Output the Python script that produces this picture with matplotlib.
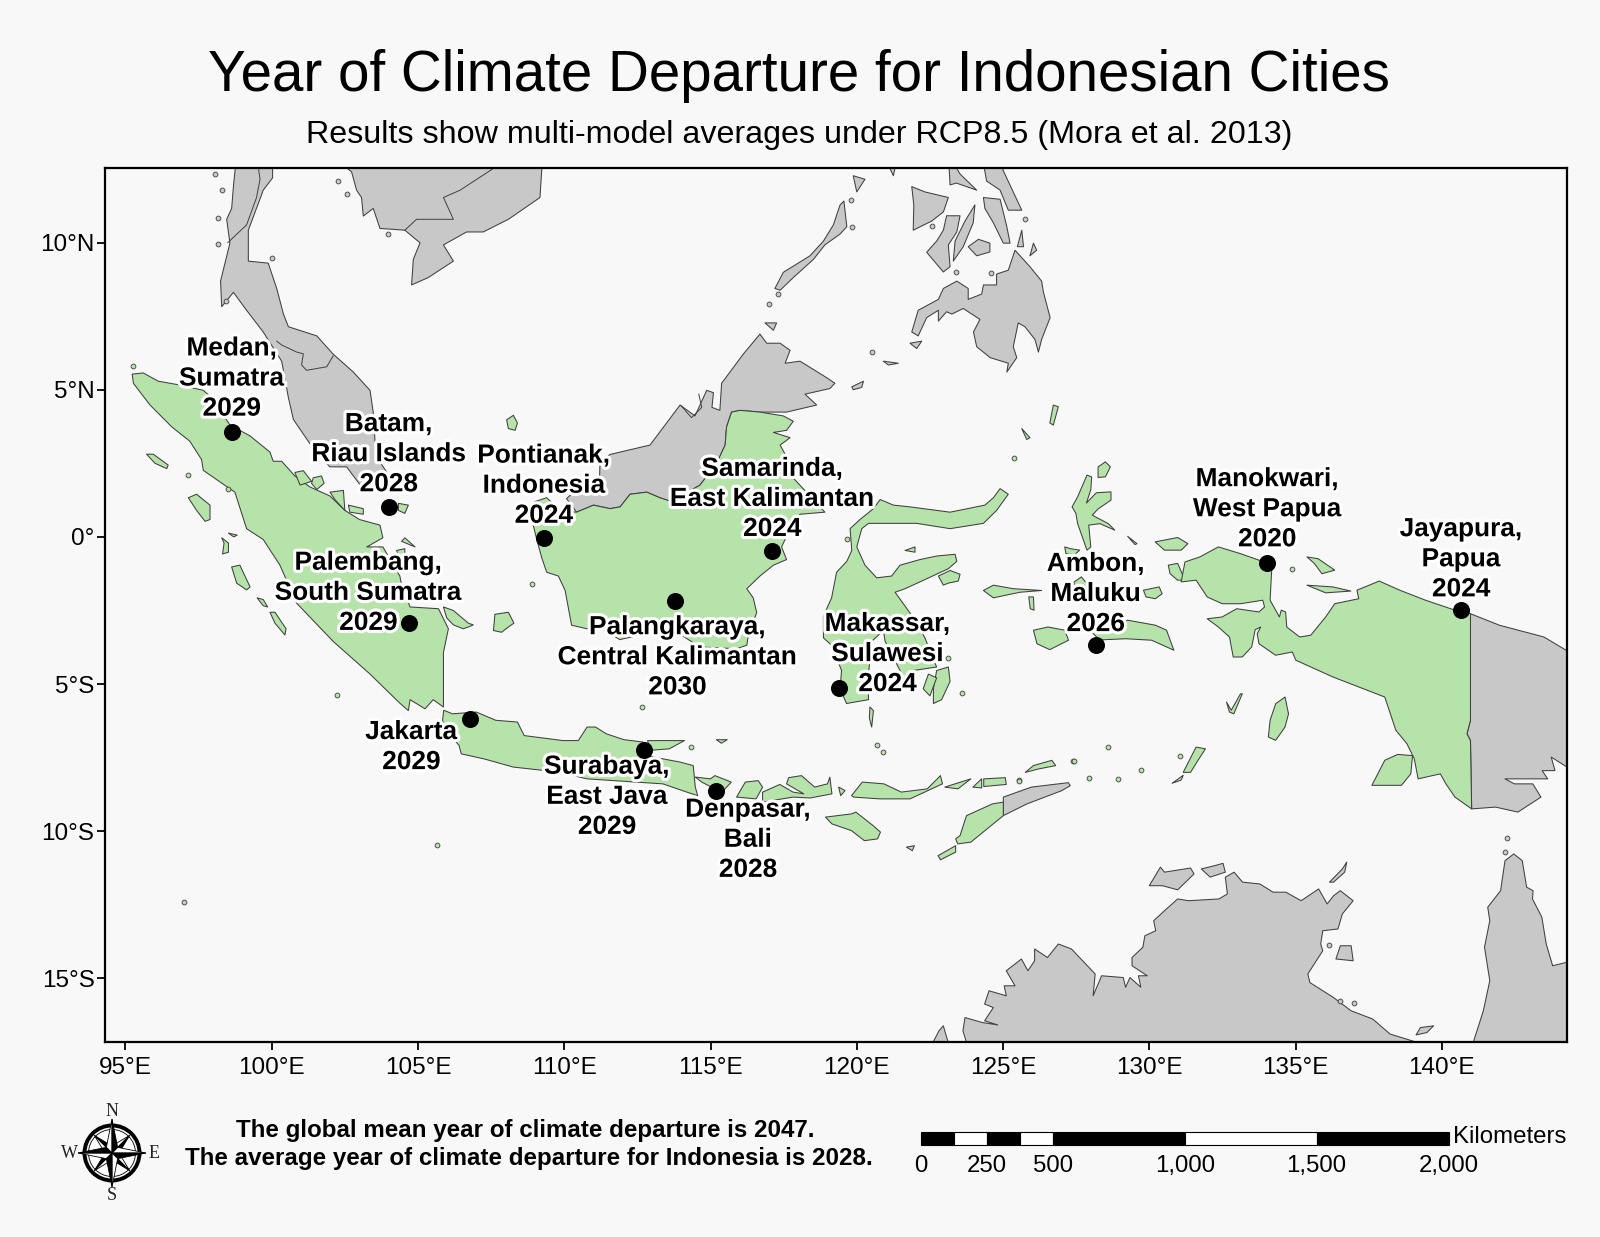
#!/usr/bin/env python3
# -*- coding: utf-8 -*-
import numpy as np
import matplotlib
matplotlib.use('Agg')
import matplotlib.pyplot as plt
import matplotlib.patheffects as pe
from matplotlib.patches import Polygon, Circle

plt.rcParams['font.family'] = ['Liberation Sans', 'DejaVu Sans']

# ---- coastlines, (lon, lat) ----
sumatra = [(95.23,5.53),(95.61,5.57),(96.12,5.29),(96.86,5.16),(97.66,4.98),(97.95,4.73),(98.57,3.8),(99.26,3.43),
           (99.94,2.88),(100.05,2.57),(100.34,2.57),(100.79,2.07),(101.3,1.7),(101.99,1.39),(102.5,0.9),(103.0,0.59),
           (103.7,0.4),(103.8,-0.03),(103.25,-0.34),(103.8,-0.34),(104.38,-1.33),(104.44,-1.64),(104.73,-2.38),
           (105.7,-2.44),(106.04,-3.12),(105.87,-3.92),(105.87,-5.78),(105.52,-5.53),(105.24,-5.84),(104.73,-5.53),
           (104.67,-5.9),(104.38,-5.65),(103.36,-4.66),(102.1,-3.55),(100.85,-2.25),(100.28,-0.96),(99.71,-0.09),
           (99.14,0.28),(98.74,1.52),(97.66,2.26),(97.6,2.63),(97.2,3.25),(96.58,3.74),(95.84,4.48),(95.27,5.22)]
simeulue = [(95.72,2.81),(95.95,2.81),(96.46,2.44),(96.41,2.32),(96.01,2.5)]
nias = [(97.15,1.33),(97.43,1.45),(97.89,1.08),(97.89,0.59),(97.72,0.53),(97.43,0.9)]
siberut = [(98.63,-1.02),(98.91,-0.96),(99.26,-1.7),(99.14,-1.8),(98.8,-1.57)]
sipora = [(99.5,-2.07),(99.71,-2.13),(99.86,-2.38),(99.71,-2.34)]
pagai = [(99.94,-2.56),(100.11,-2.56),(100.49,-3.12),(100.45,-3.33),(100.11,-2.93)]
batu = [(98.29,-0.03),(98.52,-0.21),(98.52,-0.52),(98.32,-0.58),(98.37,-0.21)]
batu_n = [(98.52,0.13),(98.82,0.06),(98.7,0.0)]
bengkalis = [(100.79,2.19),(101.08,2.25),(101.36,1.89),(100.97,1.76)]
rupat = [(101.42,2.01),(101.7,2.07),(101.79,1.82),(101.54,1.61),(101.36,1.82)]
rangsang = [(101.99,1.52),(102.45,1.58),(102.5,0.9),(102.16,1.27)]
karimun = [(102.62,1.08),(103.13,0.96),(103.13,0.77),(102.67,0.84)]
bintan = [(104.33,1.14),(104.67,1.08),(104.55,0.8),(104.33,0.9)]
lingga_a = [(104.44,-0.15),(104.9,-0.34),(104.55,-0.03)]
lingga_b = [(104.27,-0.46),(104.55,-0.4),(104.55,-0.65),(104.33,-0.65)]
bangka = [(105.87,-2.38),(106.21,-2.5),(106.72,-2.93),(106.89,-2.99),(106.72,-3.06),(106.55,-3.12),(106.21,-2.99),(105.98,-2.75)]
belitung = [(107.63,-2.63),(108.09,-2.56),(108.28,-2.93),(108.09,-3.06),(107.86,-3.24),(107.58,-3.18)]
natuna = [(108.03,3.98),(108.26,4.13),(108.4,3.87),(108.32,3.62),(108.09,3.68)]
kalimantan = [(109.0,1.2),(109.4,1.33),(109.86,0.9),(110.42,0.84),(111.0,1.08),(111.56,0.96),(111.91,1.02),(112.25,1.45),
              (112.82,1.52),(113.27,1.33),(113.67,1.2),(114.64,1.76),(115.21,2.5),(115.5,3.12),(115.55,3.74),(115.72,4.24),
              (116.01,4.3),(116.69,4.24),(117.49,4.11),(117.83,3.93),(117.6,3.62),(117.15,3.55),(117.72,3.37),(117.38,3.12),
              (117.72,2.5),(117.83,2.0),(118.91,0.84),(118.06,0.77),(117.72,0.28),(117.43,-0.34),(117.6,-0.77),(117.15,-0.96),
              (116.69,-1.33),(116.24,-1.76),(116.46,-2.07),(116.58,-2.57),(116.3,-3.31),(116.24,-3.68),(115.9,-3.8),
              (114.64,-3.74),(113.96,-3.31),(113.27,-3.18),(111.9,-3.49),(111.2,-3.06),(110.77,-3.12),(110.25,-3.0),
              (110.03,-1.82),(109.8,-1.33),(109.4,-1.2),(109.23,-0.71),(109.06,-0.09),(108.94,0.4),(109.06,0.9)]
sulawesi = [(125.18,1.45),(124.9,1.64),(124.67,1.33),(124.38,1.08),(123.19,0.84),(121.82,1.02),(121.25,1.08),(120.8,1.27),
            (120.57,0.96),(120.11,0.59),(119.77,0.28),(119.83,-0.46),(119.66,-0.83),(119.31,-1.2),(119.14,-2.07),
            (118.86,-2.69),(118.86,-3.43),(119.14,-3.68),(119.48,-4.54),(119.43,-5.16),(119.65,-5.66),(120.4,-5.53),
            (120.4,-4.66),(120.51,-3.55),(120.91,-3.18),(120.97,-3.55),(121.54,-4.66),(121.59,-4.91),(121.93,-4.54),
            (122.73,-4.42),(122.33,-3.43),(121.99,-2.82),(121.31,-1.88),(121.65,-1.76),(122.33,-1.45),(123.13,-1.08),
            (123.42,-0.83),(123.36,-0.59),(122.73,-0.65),(122.16,-0.77),(121.48,-0.96),(121.19,-1.33),(120.68,-1.39),
            (120.28,-0.96),(120.0,-0.34),(120.17,0.28),(120.4,0.46),(122.05,0.46),(123.19,0.28),(124.33,0.46),(124.78,0.9)]
buton = [(122.73,-4.54),(123.13,-4.42),(123.19,-4.91),(122.9,-5.53),(122.62,-5.66),(122.62,-5.16)]
muna = [(122.27,-5.16),(122.45,-4.66),(122.73,-4.79),(122.5,-5.4)]
selayar = [(120.45,-5.78),(120.57,-5.9),(120.51,-6.46),(120.43,-6.15)]
banggai = [(122.79,-1.33),(123.19,-1.14),(123.53,-1.27),(123.47,-1.5),(123.13,-1.57),(122.96,-1.64)]
togian = [(121.65,-0.46),(121.99,-0.34),(121.99,-0.52)]
talaud = [(126.72,4.48),(126.89,4.42),(126.72,3.8),(126.6,3.87)]
sangihe = [(125.64,3.68),(125.92,3.37),(125.81,3.31)]
morotai = [(128.25,2.38),(128.5,2.55),(128.67,2.38),(128.5,2.04),(128.25,2.02)]
halmahera = [(127.55,1.36),(127.87,2.1),(128.03,2.04),(128.0,1.6),(127.85,1.15),(128.19,1.5),(128.69,1.53),(128.69,1.25),
             (128.25,0.95),(128.05,0.74),(128.6,0.45),(128.82,0.23),(128.31,0.45),(127.93,0.4),(128.0,-0.34),(127.87,-0.45),
             (127.55,0.45),(127.49,0.8),(127.36,1.02)]
bacan = [(127.11,-0.34),(127.3,-0.4),(127.62,-0.45),(127.43,-0.62),(127.15,-0.57)]
gebe = [(129.26,0.02),(129.58,-0.23),(129.51,-0.26)]
waigeo = [(130.2,-0.17),(130.97,-0.02),(131.32,-0.23),(131.09,-0.45),(130.52,-0.45)]
salawati = [(130.65,-0.96),(130.97,-0.9),(131.22,-1.47),(130.97,-1.47),(130.71,-1.25)]
seram = [(128.0,-3.2),(128.94,-3.0),(129.26,-2.83),(130.21,-3.0),(130.59,-3.17),(130.84,-3.85),(130.08,-3.51),(129.2,-3.46),(128.3,-3.5)]
buru = [(126.04,-3.17),(126.54,-3.06),(127.11,-3.17),(127.24,-3.51),(126.6,-3.83),(126.16,-3.63)]
taliabu = [(124.33,-1.82),(124.67,-1.64),(125.35,-1.76),(126.32,-1.82),(125.58,-1.88),(124.67,-2.07)]
sanana = [(125.88,-2.04),(126.04,-2.04),(126.06,-2.49),(125.93,-2.44)]
misool = [(129.8,-1.81),(130.34,-1.7),(130.44,-1.93),(130.21,-2.1),(129.89,-2.04)]
obi = [(127.43,-1.53),(127.68,-1.36),(127.91,-1.64),(127.43,-1.7)]
papua = [(131.22,-0.85),(131.73,-0.68),(132.36,-0.34),(133.12,-0.57),(133.75,-0.79),(134.19,-1.02),(134.13,-2.15),
         (134.45,-2.72),(134.51,-2.49),(134.66,-2.55),(134.7,-3.06),(135.14,-3.4),(135.52,-3.34),(136.03,-2.72),
         (136.34,-2.27),(137.16,-2.1),(137.1,-1.81),(137.86,-1.5),(138.56,-1.81),(139.44,-2.15),(140.45,-2.49),
         (140.98,-2.61),(140.98,-6.23),(140.86,-6.69),(140.98,-6.92),(141.02,-9.24),(140.45,-8.84),(140.14,-8.39),
         (139.95,-8.05),(139.19,-8.22),(139.06,-7.54),(138.81,-7.03),(138.43,-6.57),(138.05,-5.44),(136.28,-4.76),
         (135.01,-4.19),(134.89,-3.91),(134.32,-4.02),(133.75,-3.63),(133.69,-3.29),(133.81,-3.06),(133.62,-3.15),
         (133.5,-3.74),(133.18,-4.08),(132.87,-4.08),(132.74,-3.4),(132.36,-3.06),(131.98,-2.78),(132.49,-2.72),
         (132.99,-2.44),(133.75,-2.55),(133.94,-2.38),(133.88,-2.15),(133.12,-2.27),(132.49,-2.27),(131.98,-2.04),
         (131.6,-1.47),(131.09,-1.53)]
dolak = [(137.61,-8.44),(138.05,-7.59),(138.49,-7.39),(139.0,-7.43),(138.94,-8.05),(138.62,-8.44)]
biak = [(135.39,-0.68),(135.77,-0.74),(136.34,-1.13),(135.9,-1.25),(135.65,-0.91)]
yapen = [(135.39,-1.64),(136.28,-1.7),(136.89,-1.84),(136.03,-1.9)]
aru = [(134.32,-5.67),(134.64,-5.44),(134.76,-6.01),(134.64,-6.46),(134.32,-6.91),(134.07,-6.8),(134.13,-6.23)]
kai = [(132.64,-5.61),(132.8,-5.89),(133.12,-5.33),(133.18,-5.33),(132.89,-6.01),(132.74,-5.95)]
tanimbar = [(131.16,-8.0),(131.6,-7.14),(131.92,-7.2),(131.66,-7.6),(131.41,-8.0)]
selaru = [(130.78,-8.37),(131.16,-8.1),(131.09,-8.26)]
wetar = [(125.76,-8.0),(126.04,-7.77),(126.67,-7.59),(126.8,-7.77),(126.23,-7.88)]
timor_west = [(125.01,-9.01),(124.64,-9.07),(123.75,-9.47),(123.53,-10.15),(123.38,-10.26),(123.45,-10.43),(123.9,-10.37),(125.01,-9.47)]
rote = [(122.78,-10.83),(123.38,-10.49),(123.38,-10.71),(122.86,-10.97)]
savu = [(121.7,-10.54),(121.97,-10.49),(121.9,-10.66)]
sumba = [(118.93,-9.52),(119.82,-9.41),(119.97,-9.35),(120.56,-9.81),(120.81,-10.03),(120.71,-10.26),(120.26,-10.32),(119.82,-9.98),(119.15,-9.75)]
flores = [(119.82,-8.79),(120.19,-8.33),(120.93,-8.39),(121.52,-8.67),(122.41,-8.56),(122.86,-8.11),(122.93,-8.39),(121.82,-8.9),(120.78,-8.9),(119.89,-8.84)]
solor = [(123.01,-8.5),(123.9,-8.22),(123.46,-8.56)]
pantar = [(123.97,-8.5),(124.27,-8.22),(124.27,-8.53)]
alor = [(124.34,-8.22),(125.08,-8.18),(125.11,-8.41),(124.34,-8.48)]
sumbawa = [(116.78,-9.01),(116.78,-8.67),(117.37,-8.41),(117.82,-8.67),(118.19,-8.73),(117.6,-8.39),(117.67,-8.18),(118.11,-8.11),
           (118.56,-8.5),(119.0,-8.39),(119.08,-8.16),(119.15,-8.73),(118.41,-8.87),(117.82,-8.84)]
lombok = [(115.89,-8.84),(116.19,-8.33),(116.63,-8.28),(116.78,-8.5),(116.56,-8.9)]
bali = [(114.48,-8.16),(115.0,-8.22),(115.15,-8.11),(115.71,-8.33),(115.45,-8.61),(115.15,-8.56),(114.7,-8.33)]
komodo = [(119.38,-8.5),(119.6,-8.62),(119.45,-8.79)]
madura = [(112.85,-6.92),(114.11,-6.92),(113.59,-7.2),(112.93,-7.25)]
kangean = [(115.2,-6.89),(115.57,-6.89),(115.37,-7.01)]
java = [(105.88,-5.89),(106.18,-6.01),(106.99,-5.95),(107.66,-6.23),(108.4,-6.29),(108.63,-6.75),(109.96,-6.92),(110.48,-6.92),
        (110.78,-6.46),(111.07,-6.46),(111.44,-6.69),(112.04,-6.89),(112.7,-6.97),(112.78,-7.43),(113.96,-7.65),(114.41,-7.77),
        (114.48,-8.5),(114.56,-8.79),(114.19,-8.67),(113.37,-8.39),(110.78,-8.22),(109.81,-7.99),(108.26,-7.82),(107.29,-7.55),
        (106.48,-7.37),(106.4,-7.08),(105.96,-6.57),(105.84,-6.23)]

malay_peninsula = [(98.8,13.0),(100.03,13.0),(100.03,12.2),(99.71,11.78),(99.2,10.42),(99.2,9.37),(99.88,9.3),(100.17,8.44),(100.4,7.57),
                   (100.57,7.14),(101.54,6.83),(102.1,6.21),(102.79,5.6),(103.36,4.98),(103.47,4.23),(103.53,3.25),(103.64,2.63),
                   (103.98,2.13),(103.7,1.7),(103.07,1.7),(102.56,2.38),(101.99,2.38),(101.42,3.0),(100.74,3.99),(100.57,4.73),
                   (100.34,5.97),(99.71,6.96),(99.14,7.7),(98.69,8.31),(98.29,7.82),(98.25,8.69),(98.57,9.98),(98.46,10.79),
                   (98.63,11.16),(98.69,11.9)]
indochina = [(102.0,13.0),(102.73,12.4),(102.9,11.78),(103.07,11.53),(103.13,10.9),(103.47,11.16),(103.7,10.48),(104.55,10.42),
             (105.07,9.99),(104.84,9.43),(104.78,8.56),(105.35,8.81),(106.21,9.37),(105.87,9.92),(106.66,10.36),(107.23,10.36),
             (108.09,10.79),(109.17,11.53),(109.23,12.46),(109.3,13.0)]
north_borneo = [(110.08,1.3),(110.5,1.7),(111.2,1.7),(111.22,2.5),(111.56,2.8),(112.93,3.12),(113.96,4.48),(114.47,4.11),(114.87,4.98),
                (115.1,4.9),(115.05,4.4),(115.32,4.3),(115.38,5.22),(116.12,6.21),(116.69,6.89),(116.92,6.58),(117.38,6.58),
                (117.72,6.34),(117.55,5.9),(118.06,5.97),(118.97,5.41),(119.25,5.22),(119.08,5.04),(118.23,4.85),(118.63,4.48),
                (117.6,4.24),(116.69,4.24),(116.01,4.3),(115.72,4.24),(115.55,3.74),(115.5,3.12),(115.21,2.5),(114.64,1.76),
                (113.67,1.2),(113.27,1.33),(112.82,1.52),(112.25,1.45),(111.91,1.02),(111.56,0.96),(111.0,1.08),(110.42,0.84)]
palawan = [(117.2,8.44),(117.49,8.99),(118.4,9.55),(118.86,10.05),(119.2,10.6),(119.43,11.28),(119.56,11.41),(119.66,10.54),
           (119.43,10.29),(118.91,9.92),(118.52,9.43),(117.83,8.81),(117.38,8.38)]
busuanga = [(119.88,12.27),(120.28,12.15),(120.0,11.72)]
balabac = [(116.86,7.27),(117.26,7.27),(117.15,7.02)]
panay = [(121.88,11.9),(122.33,11.72),(123.13,11.53),(122.96,11.04),(122.56,10.73),(121.93,10.42),(121.95,11.28)]
negros = [(123.07,10.91),(123.53,10.91),(123.42,10.36),(123.13,9.92),(123.19,9.18),(122.96,9.0),(122.39,9.67),(122.73,10.05),(122.96,10.42)]
cebu = [(124.04,11.28),(123.98,10.67),(123.64,9.86),(123.3,9.37),(123.36,10.05),(123.7,10.73)]
bohol = [(123.81,9.86),(124.16,10.11),(124.55,9.98),(124.55,9.68),(124.1,9.55)]
leyte = [(124.33,11.53),(124.9,11.47),(125.13,10.54),(125.24,9.98),(125.01,9.98),(124.67,10.67),(124.38,11.16)]
samar = [(124.27,13.0),(125.0,13.0),(125.0,12.46),(125.64,11.1),(125.18,11.1),(124.9,11.78),(124.44,12.09)]
masbate = [(123.13,13.0),(123.53,12.33),(124.1,11.78),(123.41,12.02),(123.19,11.96)]
mindoro = [(120.91,13.0),(121.42,13.0),(121.25,12.27)]
dinagat = [(125.64,10.42),(125.7,9.86),(125.49,9.86)]
siargao = [(126.04,9.98),(126.15,9.74),(125.92,9.55)]
mindanao = [(122.1,6.83),(121.88,6.96),(122.1,7.7),(122.79,8.07),(122.96,8.44),(123.42,8.69),(123.81,8.44),(123.81,8.07),(124.27,8.25),
            (124.33,8.56),(124.78,8.56),(124.78,8.93),(125.18,9.06),(125.41,9.74),(125.92,9.18),(126.32,8.69),(126.38,8.32),(126.61,7.45),
            (126.32,6.71),(126.21,6.28),(126.09,6.71),(125.75,7.14),(125.52,7.27),(125.35,6.46),(125.47,6.09),(125.13,5.6),(125.18,5.9),
            (124.56,6.09),(124.1,6.46),(123.99,6.96),(124.21,7.39),(123.64,7.76),(123.25,7.57),(123.07,7.65),(122.79,7.33),(122.79,7.7),(122.39,7.45)]
basilan = [(121.82,6.58),(122.22,6.65),(122.05,6.4)]
jolo = [(120.91,5.97),(121.42,5.9),(121.08,5.84)]
tawi = [(119.83,5.1),(120.23,5.29),(120.17,5.08),(119.88,5.0)]
timor_leste = [(125.01,-8.84),(125.97,-8.5),(127.23,-8.35),(127.3,-8.45),(127.01,-8.62),(125.82,-9.07),(125.01,-9.47)]
png = [(140.98,-2.61),(141.97,-3.0),(143.49,-3.4),(144.25,-3.85),(144.8,-3.85),(144.8,-7.8),(144.25,-7.8),(143.74,-7.48),(143.87,-7.94),
       (143.43,-7.94),(143.62,-8.22),(142.16,-8.22),(142.48,-8.39),(143.11,-8.39),(143.39,-8.84),(142.6,-9.35),(141.84,-9.18),(141.02,-9.24),
       (140.98,-6.92),(140.86,-6.69),(140.98,-6.23)]
kimberley_bit = [(122.44,-17.5),(122.81,-16.78),(122.96,-16.61),(123.04,-16.89),(123.23,-17.5)]
north_australia = [(123.85,-17.5),(123.63,-16.78),(123.7,-16.33),(124.3,-16.5),(124.82,-16.58),(124.37,-16.44),(124.67,-15.99),(124.37,-15.87),
                   (124.52,-15.42),(125.11,-15.59),(125.04,-15.25),(125.41,-15.25),(125.11,-14.74),(125.63,-14.34),(125.85,-14.74),
                   (126.08,-14.4),(126.08,-14.0),(126.52,-14.29),(126.89,-13.83),(127.34,-14.0),(128.15,-14.85),(128.08,-15.59),
                   (128.37,-14.91),(129.11,-14.97),(129.19,-15.3),(129.34,-14.97),(129.71,-15.3),(129.63,-14.91),(129.93,-14.91),
                   (129.41,-14.57),(129.41,-14.29),(129.78,-13.94),(129.85,-13.55),(130.22,-13.38),(130.15,-13.04),(130.52,-12.7),
                   (130.97,-12.3),(131.34,-12.36),(132.38,-12.3),(132.67,-12.13),(132.6,-11.56),(132.9,-11.39),(133.19,-11.73),
                   (133.78,-11.79),(134.23,-12.07),(134.67,-12.07),(135.19,-12.36),(135.79,-11.96),(136.08,-12.47),(136.3,-12.19),
                   (136.53,-12.02),(136.97,-12.36),(136.6,-12.81),(136.45,-13.32),(135.93,-13.38),(135.86,-13.83),(135.93,-14.06),
                   (135.42,-14.85),(135.49,-15.14),(136.3,-15.65),(136.9,-16.1),(137.64,-16.38),(138.23,-16.89),(139.05,-17.14),(139.1,-17.5)]
cape_york = [(140.97,-17.5),(141.42,-16.1),(141.64,-15.08),(141.46,-13.94),(141.64,-13.04),(141.57,-12.58),(142.01,-12.02),(142.16,-11.0),
             (142.46,-10.77),(142.75,-11.0),(142.9,-11.9),(143.12,-12.02),(143.1,-12.3),(143.42,-12.92),(143.57,-13.83),(143.79,-14.57),
             (144.24,-14.46),(144.8,-14.46),(144.8,-17.5)]
melville = [(130.0,-11.85),(130.38,-11.22),(130.52,-11.39),(131.41,-11.25),(131.53,-11.45),(130.97,-11.99),(130.45,-11.85)]
cobourg = [(131.78,-11.28),(132.23,-11.17),(132.52,-11.09),(132.6,-11.39),(132.08,-11.56)]
wessel = [(136.16,-11.73),(136.6,-11.28),(136.75,-11.05),(136.68,-11.39),(136.3,-11.73)]
groote = [(136.38,-14.34),(136.53,-13.89),(136.9,-13.89),(136.97,-14.4)]
wellesley = [(139.12,-16.92),(139.27,-16.67),(139.72,-16.61),(139.49,-16.84)]

indonesia_land = [sumatra, simeulue, nias, siberut, sipora, pagai, batu, batu_n, bengkalis, rupat, rangsang, karimun, bintan,
                  lingga_a, lingga_b, bangka, belitung, natuna, kalimantan, sulawesi, buton, muna, selayar, banggai, togian,
                  talaud, sangihe, morotai, halmahera, bacan, gebe, waigeo, salawati, seram, buru, taliabu, sanana, misool, obi,
                  papua, dolak, biak, yapen, aru, kai, tanimbar, selaru, wetar, timor_west, rote, savu, sumba, flores, solor,
                  pantar, alor, sumbawa, lombok, bali, komodo, madura, kangean, java]
other_land = [malay_peninsula, indochina, north_borneo, palawan, busuanga, balabac, panay, negros, cebu, bohol, leyte, samar,
              masbate, mindoro, dinagat, siargao, mindanao, basilan, jolo, tawi, timor_leste, png, kimberley_bit,
              north_australia, cape_york, melville, cobourg, wessel, groote, wellesley]

border_lines = [[(98.5,10.0),(99.14,10.6),(99.48,11.53),(99.6,12.15),(99.48,13.0)],
                [(100.17,6.65),(100.34,6.52),(100.85,6.28),(101.08,6.22),(101.02,5.84),(101.19,5.66),(101.88,5.78),(102.1,6.15)],
                [(104.55,10.42),(104.95,10.79),(106.21,10.79),(105.87,11.53),(106.44,11.78),(107.58,12.52),(108.0,13.0)],
                [(114.0,4.45),(114.35,4.05),(114.7,4.4),(114.6,4.85)]]

tiny_green_lon = [97.15,98.52,95.27,102.22,108.89,119.66,123.59,112.65,123.13,125.39,134.89,128.6,127.4,129.7,127.93,128.92,125.53,131.06,125.53,127.41,114.33,120.68,120.9,105.66]
tiny_green_lat = [2.1,1.64,5.8,-5.38,-1.61,-0.07,-5.32,-5.78,-4.11,2.69,-1.08,-7.14,-7.6,-7.93,-8.2,-8.24,-8.25,-7.46,-8.28,-7.6,-7.14,-7.08,-7.3,-10.46]
tiny_grey_lon = [98.06,98.3,98.17,98.17,100.0,98.45,103.98,102.28,102.56,119.83,119.8,117.01,117.3,122.56,125.76,123.4,124.6,120.52,136.16,136.53,137.0,142.23,142.16,97.0]
tiny_grey_lat = [12.33,11.8,10.85,9.95,9.49,8.0,10.3,12.08,11.65,10.54,11.44,7.92,8.25,10.57,10.8,9.0,8.95,6.27,-13.85,-15.76,-15.85,-10.23,-10.71,-12.4]

# ---- cities ----
city_names = ['Medan,\nSumatra', 'Batam,\nRiau Islands', 'Pontianak,\nIndonesia', 'Samarinda,\nEast Kalimantan', 'Manokwari,\nWest Papua',
              'Jayapura,\nPapua', 'Palembang,\nSouth Sumatra', 'Ambon,\nMaluku', 'Palangkaraya,\nCentral Kalimantan', 'Makassar,\nSulawesi',
              'Jakarta', 'Surabaya,\nEast Java', 'Denpasar,\nBali']
city_years = [2029, 2028, 2024, 2024, 2020, 2024, 2029, 2026, 2030, 2024, 2029, 2029, 2028]
city_lon = [98.63, 104.0, 109.3, 117.11, 134.03, 140.64, 104.7, 128.17, 113.77, 119.38, 106.79, 112.72, 115.2]
city_lat = [3.57, 1.0, -0.03, -0.49, -0.87, -2.5, -2.91, -3.67, -2.18, -5.13, -6.2, -7.24, -8.63]

# where each label sits (centre of the block)
label_lon = [98.63, 104.0, 109.3, 117.11, 134.03, 140.66, 103.3, 128.17, 113.87, 121.05, 104.77, 111.46, 116.28]
label_lat = [5.38, 2.81, 1.74, 1.29, 0.94, -0.76, -1.9, -1.94, -4.09, -3.98, -7.14, -8.83, -10.29]

lon_ticks = [95, 100, 105, 110, 115, 120, 125, 130, 135, 140]
lon_labels = ['95°E', '100°E', '105°E', '110°E', '115°E', '120°E', '125°E', '130°E', '135°E', '140°E']
lat_ticks = [10, 5, 0, -5, -10, -15]
lat_labels = ['10°N', '5°N', '0°', '5°S', '10°S', '15°S']

scale_km = [0, 125, 250, 375, 500, 1000, 1500, 2000]
scale_ticks = [0, 250, 500, 1000, 1500, 2000]
scale_labels = ['0', '250', '500', '1,000', '1,500', '2,000']

bg = '#F8F8F8'
green = '#B5E3A9'
grey = '#C8C8C8'
coast = '#404040'
W, H = 1600, 1237


def px_axes(x0, y0, x1, y1):
    # axes box given in picture pixels
    return fig.add_axes([x0 / W, 1 - y1 / H, (x1 - x0) / W, (y1 - y0) / H])


fig = plt.figure(figsize=(16, 12.37), dpi=100, facecolor=bg)
ax = px_axes(105, 167.5, 1567, 1042)
ax.set_facecolor(bg)
ax.set_xlim(94.3, 144.28)
ax.set_ylim(-17.16, 12.55)

for poly in other_land:
    ax.add_patch(Polygon(poly, closed=True, fc=grey, ec=coast, lw=0.75, joinstyle='round', zorder=2))
for poly in indonesia_land:
    ax.add_patch(Polygon(poly, closed=True, fc=green, ec=coast, lw=0.75, joinstyle='round', zorder=3))
for line in border_lines:
    ax.plot([p[0] for p in line], [p[1] for p in line], color=coast, lw=0.7, zorder=2.5)
ax.scatter(tiny_grey_lon, tiny_grey_lat, s=12, marker='o', fc=grey, ec=coast, lw=0.6, zorder=3)
ax.scatter(tiny_green_lon, tiny_green_lat, s=12, marker='o', fc=green, ec=coast, lw=0.6, zorder=3)

ax.scatter(city_lon, city_lat, s=150, c='black', zorder=6, lw=0)

halo = [pe.withStroke(linewidth=4.5, foreground='white')]
for i in range(len(city_names)):
    ax.text(label_lon[i], label_lat[i], city_names[i] + '\n' + str(city_years[i]), ha='center', va='center',
            fontsize=18.9, fontweight='bold', color='black', linespacing=1.32, zorder=5, path_effects=halo)

ax.set_xticks(lon_ticks)
ax.set_xticklabels(lon_labels)
ax.set_yticks(lat_ticks)
ax.set_yticklabels(lat_labels)
ax.tick_params(axis='both', length=6, width=1.3, labelsize=17.5, color='black')
ax.tick_params(axis='x', pad=5)
ax.tick_params(axis='y', pad=1.5)
for s in ax.spines.values():
    s.set_linewidth(1.6)

# titles and notes
fig.text(799 / W, 1 - 76 / H, 'Year of Climate Departure for Indonesian Cities', ha='center', va='center', fontsize=40.7)
fig.text(799 / W, 1 - 135 / H, 'Results show multi-model averages under RCP8.5 (Mora et al. 2013)', ha='center', va='center', fontsize=23.2)
fig.text(525 / W, 1 - 1131 / H, 'The global mean year of climate departure is 2047.', ha='center', va='center', fontsize=17.35, fontweight='bold')
fig.text(528.5 / W, 1 - 1159 / H, 'The average year of climate departure for Indonesia is 2028.', ha='center', va='center', fontsize=17.35, fontweight='bold')

# scale bar
sb = px_axes(920.8, 1132, 1448.6, 1145)
sb.set_xlim(scale_km[0], scale_km[-1])
sb.set_ylim(0, 1)
sb.axis('off')
for i in range(len(scale_km) - 1):
    sb.barh(0.5, scale_km[i + 1] - scale_km[i], left=scale_km[i], height=1, align='center',
            color='black' if i % 2 == 0 else 'white', edgecolor='black', lw=0.8, clip_on=False)
for k, lab in zip(scale_ticks, scale_labels):
    sb.text(k, -1.65, lab, ha='center', va='center', fontsize=17.3, clip_on=False)
sb.text(2000 + 16, 0.65, 'Kilometers', ha='left', va='center', fontsize=17.3, clip_on=False)

# compass rose
cp = px_axes(62, 1103, 162, 1203)
cp.set_xlim(-50, 50)
cp.set_ylim(-50, 50)
cp.axis('off')
cp.add_patch(Circle((0, 0), 27.5, fc='none', ec='black', lw=2.8))
cp.add_patch(Circle((0, 0), 23.5, fc='white', ec='black', lw=0.6))


def star_point(angle, length, base):
    a = np.deg2rad(angle)
    tip = (length * np.cos(a), length * np.sin(a))
    l = (base * np.cos(a + np.pi / 4), base * np.sin(a + np.pi / 4))
    r = (base * np.cos(a - np.pi / 4), base * np.sin(a - np.pi / 4))
    cp.add_patch(Polygon([(0, 0), tip, l], fc='white', ec='black', lw=0.6))
    cp.add_patch(Polygon([(0, 0), tip, r], fc='black', ec='black', lw=0.6))


for ang in [45, 135, 225, 315]:
    star_point(ang, 25, 7)
for ang in [0, 90, 180, 270]:
    star_point(ang, 34, 8)
for t, x, y in [('N', 0, 42), ('S', 0, -43), ('W', -43, 0), ('E', 42, 0)]:
    cp.text(x, y, t, ha='center', va='center', fontsize=13, family='Liberation Serif', color='#222222')

fig.savefig('out.png', dpi=100, facecolor=bg)
print('Done...')
